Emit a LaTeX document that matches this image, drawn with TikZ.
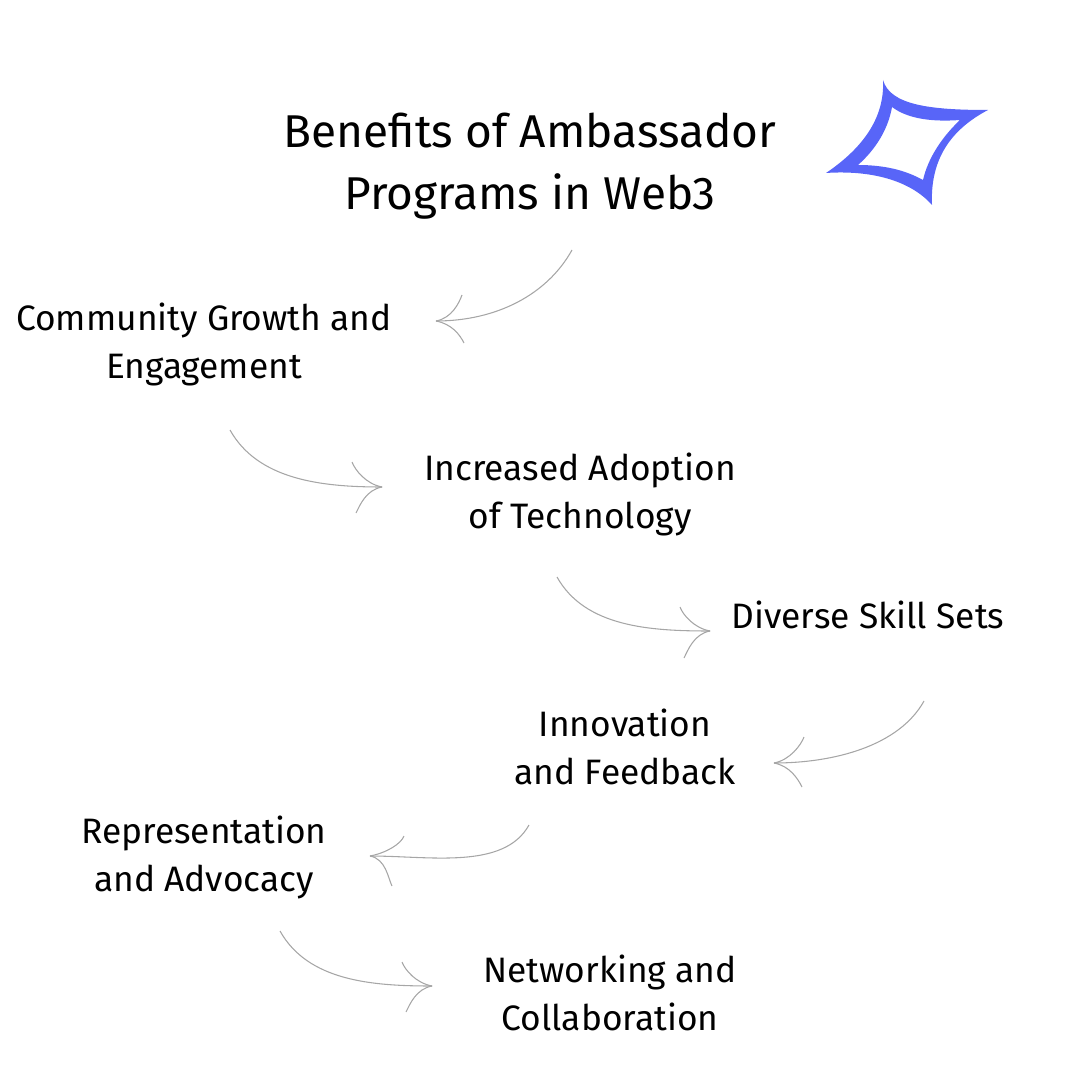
\documentclass[tikz,border=0pt]{standalone}
\usepackage{fontspec}
\usetikzlibrary{calc}
\setmainfont{Fira Sans}
\definecolor{starblue}{HTML}{5865F8}
\begin{document}
\begin{tikzpicture}[x=0.75pt,y=-0.75pt,
  lbl/.style={align=center,font=\fontsize{26.5}{36}\selectfont,inner sep=0pt},
  ttl/.style={align=center,font=\fontsize{34.5}{46}\selectfont,inner sep=0pt},
  conn/.style={draw=black!35,line width=0.8pt}]
\useasboundingbox (0,0) rectangle (1080,1080);
\node[ttl] (t) at (530,166) {Benefits of Ambassador\\Programs in Web3};
\node[lbl] (a) at (204,344) {Community Growth and\\Engagement};
\node[lbl] (b) at (580,494) {Increased Adoption\\of Technology};
\node[lbl] (c) at (868,615) {Diverse Skill Sets};
\node[lbl] (d) at (625,747) {Innovation\\and Feedback};
\node[lbl] (e) at (204,857) {Representation\\and Advocacy};
\node[lbl] (f) at (610,993) {Networking and\\Collaboration};
\fill[starblue,even odd rule]
 (883,80) .. controls (890,105) and (930,110) .. (988,110)
 .. controls (950,130) and (930,160) .. (932,205)
 .. controls (910,180) and (870,170) .. (826,173)
 .. controls (860,150) and (885,120) .. (883,80) -- cycle
 (892,107) .. controls (908,119) and (932,122) .. (960,120)
 .. controls (942,137) and (928,158) .. (923,180)
 .. controls (905,170) and (884,165) .. (858,165)
 .. controls (875,150) and (888,130) .. (892,107) -- cycle;
% leftward arrows
\foreach \sx/\sy/\tx/\ty/\ax/\ay/\bx/\by in {572/250/436/321/462/295/464/343, 924/701/774/763/804/737/802/787, 529/825/370/856/404/836/392/886}{
  \draw[conn] (\sx,\sy) .. controls ($(\sx,\sy)+(-25,45)$) and ($(\tx,\ty)+(60,0)$) .. (\tx,\ty);
  \draw[conn] (\tx,\ty) .. controls ($(\tx,\ty)+(16,-3)$) and ($(\ax,\ay)+(-3,8)$) .. (\ax,\ay);
  \draw[conn] (\tx,\ty) .. controls ($(\tx,\ty)+(16,3)$) and ($(\bx,\by)+(-4,-8)$) .. (\bx,\by);
}
% rightward arrows
\foreach \sx/\sy/\tx/\ty/\ax/\ay/\bx/\by in {230/430/382/487/352/462/356/513, 557/577/710/631/680/607/684/658, 280/931/432/986/402/962/406/1012}{
  \draw[conn] (\sx,\sy) .. controls ($(\sx,\sy)+(28,50)$) and ($(\tx,\ty)+(-60,0)$) .. (\tx,\ty);
  \draw[conn] (\tx,\ty) .. controls ($(\tx,\ty)+(-16,-3)$) and ($(\ax,\ay)+(3,8)$) .. (\ax,\ay);
  \draw[conn] (\tx,\ty) .. controls ($(\tx,\ty)+(-16,3)$) and ($(\bx,\by)+(4,-8)$) .. (\bx,\by);
}
\end{tikzpicture}
\end{document}
